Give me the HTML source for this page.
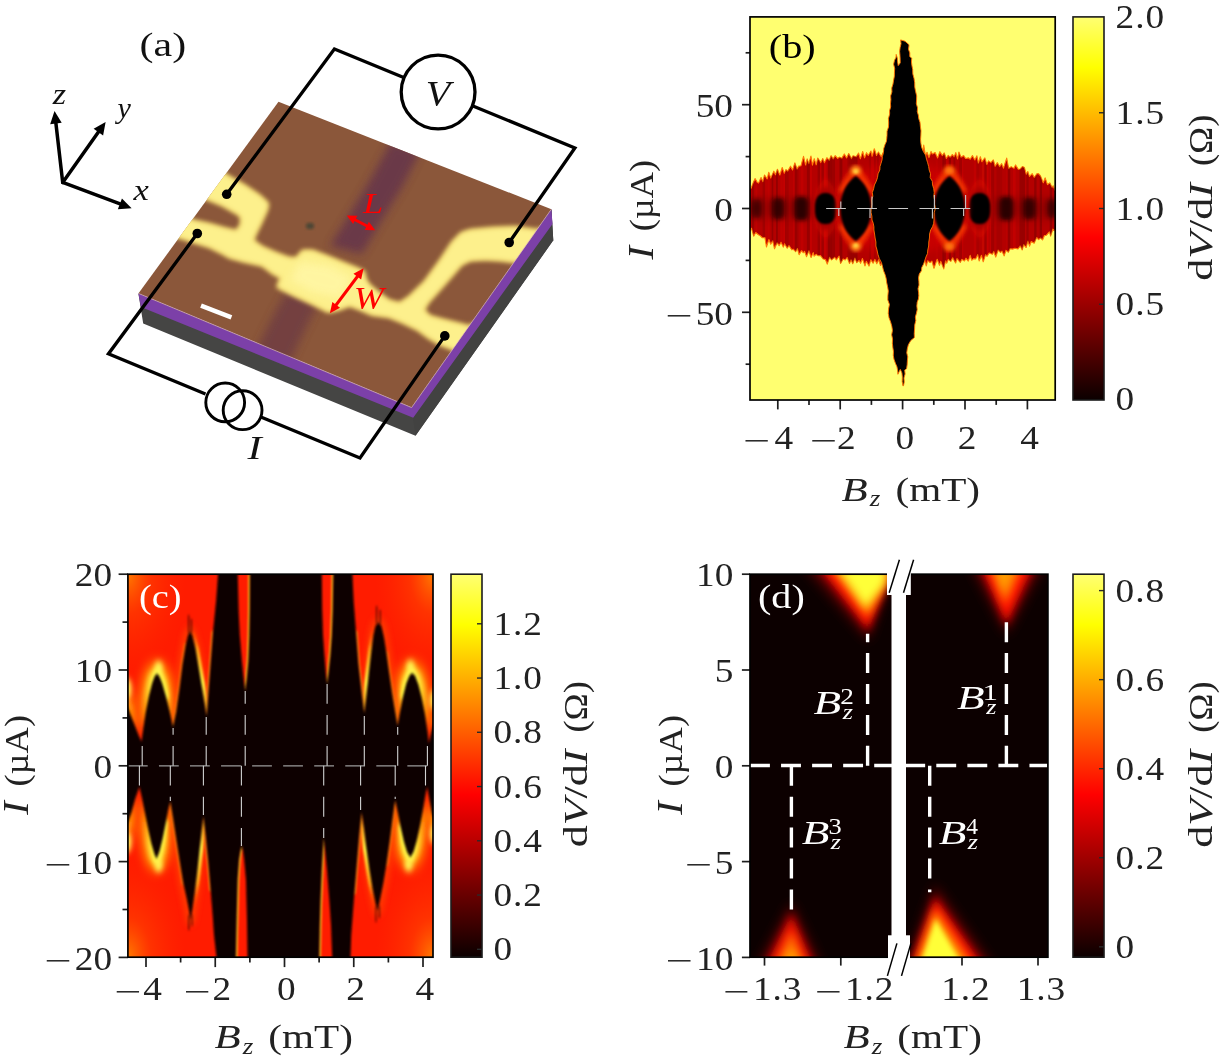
<!DOCTYPE html>
<html lang="en"><head><meta charset="utf-8"><title>Figure</title>
<style>
html,body{margin:0;padding:0;background:#fff;overflow:hidden}
svg{display:block;font-family:"Liberation Serif",serif}
</style></head><body>
<svg width="1220" height="1062" viewBox="0 0 1220 1062">
<defs>
<linearGradient id="hot" x1="0" y1="1" x2="0" y2="0">
<stop offset="0" stop-color="#0b0000"/><stop offset="0.4245" stop-color="#ff0000"/><stop offset="0.8675" stop-color="#ffff00"/><stop offset="1" stop-color="#ffff72"/>
</linearGradient>
<clipPath id="clipa"><polygon points="278.5,101.75 551.4,209.2 411.6,407.6 138.4,293.4"/></clipPath>
<filter id="ab3" x="-10%" y="-10%" width="120%" height="120%"><feGaussianBlur stdDeviation="2.6"/></filter>
<filter id="ab5" x="-20%" y="-20%" width="140%" height="140%"><feGaussianBlur stdDeviation="4.5"/></filter>
<filter id="ab1" x="-20%" y="-20%" width="140%" height="140%"><feGaussianBlur stdDeviation="1.5"/></filter>

<clipPath id="clipb"><rect x="750" y="16.9" width="305.2" height="383.1"/></clipPath>
<filter id="bl1" x="-20%" y="-20%" width="140%" height="140%"><feGaussianBlur stdDeviation="1"/></filter>
<filter id="bl2" x="-30%" y="-30%" width="160%" height="160%"><feGaussianBlur stdDeviation="2.2"/></filter>
<filter id="bl4" x="-40%" y="-40%" width="180%" height="180%"><feGaussianBlur stdDeviation="4"/></filter>
<filter id="bl05" x="-10%" y="-10%" width="120%" height="120%"><feGaussianBlur stdDeviation="0.55"/></filter>
<radialGradient id="blob"><stop offset="0" stop-color="#000" stop-opacity="1"/><stop offset="0.55" stop-color="#100000" stop-opacity="0.9"/><stop offset="1" stop-color="#300000" stop-opacity="0"/></radialGradient>

<clipPath id="clipc"><rect x="127.9" y="574.2" width="305.1" height="383"/></clipPath>
<radialGradient id="ccorner"><stop offset="0" stop-color="#ff7c00" stop-opacity="1"/><stop offset="0.4" stop-color="#ff5200" stop-opacity="0.42"/><stop offset="1" stop-color="#ff3000" stop-opacity="0"/></radialGradient>
<linearGradient id="gU1" gradientUnits="userSpaceOnUse" x1="0" x2="0" y1="668" y2="746"><stop offset="0" stop-color="#ffff58"/><stop offset="0.25" stop-color="#ffe030"/><stop offset="0.6" stop-color="#ff8a00" stop-opacity="0.8"/><stop offset="1" stop-color="#ff2000" stop-opacity="0"/></linearGradient>
<linearGradient id="gU1o" gradientUnits="userSpaceOnUse" x1="0" x2="0" y1="668" y2="746"><stop offset="0" stop-color="#ffa000"/><stop offset="0.5" stop-color="#ff5a00" stop-opacity="0.85"/><stop offset="1" stop-color="#ff1800" stop-opacity="0"/></linearGradient>
<linearGradient id="gL1" gradientUnits="userSpaceOnUse" x1="0" x2="0" y1="864" y2="786"><stop offset="0" stop-color="#ffff58"/><stop offset="0.25" stop-color="#ffe030"/><stop offset="0.6" stop-color="#ff8a00" stop-opacity="0.8"/><stop offset="1" stop-color="#ff2000" stop-opacity="0"/></linearGradient>
<linearGradient id="gL1o" gradientUnits="userSpaceOnUse" x1="0" x2="0" y1="864" y2="786"><stop offset="0" stop-color="#ffa000"/><stop offset="0.5" stop-color="#ff5a00" stop-opacity="0.85"/><stop offset="1" stop-color="#ff1800" stop-opacity="0"/></linearGradient>
<linearGradient id="gU2" gradientUnits="userSpaceOnUse" x1="0" x2="0" y1="625" y2="722"><stop offset="0" stop-color="#ff4000" stop-opacity="0"/><stop offset="0.25" stop-color="#ffa818" stop-opacity="0.9"/><stop offset="0.6" stop-color="#fff040" stop-opacity="1"/><stop offset="0.85" stop-color="#ffb020" stop-opacity="0.8"/><stop offset="1" stop-color="#ff5000" stop-opacity="0.2"/></linearGradient>
<linearGradient id="gL2" gradientUnits="userSpaceOnUse" x1="0" x2="0" y1="908" y2="810"><stop offset="0" stop-color="#ff4000" stop-opacity="0"/><stop offset="0.25" stop-color="#ffa818" stop-opacity="0.9"/><stop offset="0.6" stop-color="#fff040" stop-opacity="1"/><stop offset="0.85" stop-color="#ffb020" stop-opacity="0.8"/><stop offset="1" stop-color="#ff5000" stop-opacity="0.2"/></linearGradient>
<filter id="cb1" filterUnits="userSpaceOnUse" x="100" y="550" width="360" height="430"><feGaussianBlur stdDeviation="0.9 1.5"/></filter>
<filter id="cb2" filterUnits="userSpaceOnUse" x="100" y="550" width="360" height="430"><feGaussianBlur stdDeviation="1.5 2.2"/></filter>
<filter id="cb3" filterUnits="userSpaceOnUse" x="100" y="550" width="360" height="430"><feGaussianBlur stdDeviation="2.4 3.4"/></filter>
<filter id="cb6" filterUnits="userSpaceOnUse" x="100" y="550" width="360" height="430"><feGaussianBlur stdDeviation="4.5 6.5"/></filter>

<clipPath id="clipd"><rect x="750" y="574.2" width="297.9" height="383"/></clipPath>
<filter id="db4" x="-30%" y="-30%" width="160%" height="160%"><feGaussianBlur stdDeviation="4"/></filter>
<filter id="db25" x="-30%" y="-30%" width="160%" height="160%"><feGaussianBlur stdDeviation="2.5"/></filter>
<filter id="db6" x="-40%" y="-40%" width="180%" height="180%"><feGaussianBlur stdDeviation="6"/></filter>

</defs>
<rect width="1220" height="1062" fill="#fff"/>
<g id="panel_a">
<polygon points="138.4,293.4 411.6,407.6 551.4,209.2 553.3,240.3 415.5,435.8 143.2,323.6" fill="#454544"/>
<polygon points="411.6,407.6 551.4,209.2 553.3,240.3 415.5,435.8" fill="#424241"/>
<polygon points="138.4,293.4 411.6,407.6 551.4,209.2 552.5,223.9 413.2,417.8 140.9,307" fill="#7c40a8"/>
<polygon points="278.5,101.75 551.4,209.2 411.6,407.6 138.4,293.4" fill="#8b573a"/>
<g clip-path="url(#clipa)">
<polygon points="392,140 420,152 403,185.4 382,220 362,254 330,246 346,220 367,185.4" fill="#69394a" filter="url(#ab5)" opacity="0.95"/>
<polygon points="287,290 318,303 304,332 289,364 256,351 271,320" fill="#703c42" filter="url(#ab5)" opacity="0.85"/>
<ellipse cx="310" cy="226" rx="4.2" ry="3.3" fill="#4e4636" filter="url(#ab1)"/>
<polygon points="225.4,174.5 243.8,185 259.6,195.6 268.2,203.5 266.9,210.1 260.9,223.3 255.7,233.8 253,240.4 262.3,247 275.4,252.8 288.6,257.8 296.5,258.2 302.5,250.7 312.7,250.7 328.5,256.7 344.3,263.3 357.5,268.5 364.1,271.8 365.4,279.1 369.4,285 378.6,292.8 389,300.5 399.6,303.2 409,297 424.5,282 440.3,260.3 452.3,242.2 461.3,233.1 470.4,230.1 493,227.9 515.6,227.1 536.7,230.1 545,228 520,262 512.6,261.8 500.5,260.3 485.4,259.5 470.4,260.3 461.3,264.8 452.3,275.3 440.3,288.9 428.2,302.4 423.7,310 429.7,316 440.3,319 452.3,322 464.4,325 468.9,326.5 478,322 458,352 452.3,349.1 440.3,344.6 429.7,338.6 417.7,329.8 402.6,322.5 389,317 372,314.7 360.2,309.4 349.6,305.4 339.1,309.4 328.5,312 312.7,304.1 292.9,294.9 277.1,287 281.1,277.8 273.2,273.8 262.3,265.4 243.8,261.5 229.3,257.5 222.7,253.6 209.5,247 196.4,243 180.5,237.8 172,236 186,216 191,220 209.5,224 225.4,228.5 236.5,231 241,224.5 241,217 238.5,214.5 222.7,205.5 208.2,199.5 200,197 218,170" fill="#e9c458" stroke="#e9c458" stroke-width="1.2" stroke-linejoin="round" filter="url(#ab3)"/>
<polygon points="225.4,174.5 243.8,185 259.6,195.6 268.2,203.5 266.9,210.1 260.9,223.3 255.7,233.8 253,240.4 262.3,247 275.4,252.8 288.6,257.8 296.5,258.2 302.5,250.7 312.7,250.7 328.5,256.7 344.3,263.3 357.5,268.5 364.1,271.8 365.4,279.1 369.4,285 378.6,292.8 389,300.5 399.6,303.2 409,297 424.5,282 440.3,260.3 452.3,242.2 461.3,233.1 470.4,230.1 493,227.9 515.6,227.1 536.7,230.1 545,228 520,262 512.6,261.8 500.5,260.3 485.4,259.5 470.4,260.3 461.3,264.8 452.3,275.3 440.3,288.9 428.2,302.4 423.7,310 429.7,316 440.3,319 452.3,322 464.4,325 468.9,326.5 478,322 458,352 452.3,349.1 440.3,344.6 429.7,338.6 417.7,329.8 402.6,322.5 389,317 372,314.7 360.2,309.4 349.6,305.4 339.1,309.4 328.5,312 312.7,304.1 292.9,294.9 277.1,287 281.1,277.8 273.2,273.8 262.3,265.4 243.8,261.5 229.3,257.5 222.7,253.6 209.5,247 196.4,243 180.5,237.8 172,236 186,216 191,220 209.5,224 225.4,228.5 236.5,231 241,224.5 241,217 238.5,214.5 222.7,205.5 208.2,199.5 200,197 218,170" fill="#fdf08c" filter="url(#ab3)"/>
<polygon points="300,262 330,266 352,278 340,298 312,292 290,280" fill="#fff6a4" filter="url(#ab5)" opacity="0.9"/>
</g>
<polyline points="138.4,293.4 411.6,407.6 551.4,209.2" fill="none" stroke="#d9b0c8" stroke-width="0.7"/>
<line x1="201" y1="305.7" x2="231.4" y2="317.3" stroke="#fff" stroke-width="4.6" />
<line x1="353.54" y1="219.01" x2="368.46" y2="226.79" stroke="#ff0000" stroke-width="3" />
<polygon points="346.8,215.5 353.1,223.97 357.35,215.81" fill="#ff0000"/>
<polygon points="375.2,230.3 364.65,229.99 368.9,221.83" fill="#ff0000"/>
<line x1="358.56" y1="275.02" x2="334.94" y2="306.48" stroke="#ff0000" stroke-width="3" />
<polygon points="363.6,268.3 353.46,273.82 361.14,279.58" fill="#ff0000"/>
<polygon points="329.9,313.2 332.36,301.92 340.04,307.68" fill="#ff0000"/>
<text transform="translate(363.05 212.5) scale(1.1956 1)" font-size="30.4" fill="#ff0000"><tspan font-style="italic">L</tspan></text>
<text transform="translate(353.77 308.7) scale(1.1636 1)" font-size="31" fill="#ff0000"><tspan font-style="italic">W</tspan></text>
<polyline points="226.7,194.3 334.4,49 574.9,147.9 509.2,242.5" fill="none" stroke="#000" stroke-width="3.3" stroke-linejoin="miter"/>
<circle cx="438.1" cy="92.0" r="36.9" fill="#fff" stroke="#000" stroke-width="3.3"/>
<polyline points="197.3,233.5 108.4,353.9 205.5,394" fill="none" stroke="#000" stroke-width="3.3" stroke-linejoin="miter"/>
<polyline points="261.5,417.2 360,457.9 444.8,335.9" fill="none" stroke="#000" stroke-width="3.3" stroke-linejoin="miter"/>
<circle cx="225.2" cy="402.4" r="19.4" fill="none" stroke="#000" stroke-width="2.9"/>
<circle cx="242.6" cy="410.2" r="19.4" fill="none" stroke="#000" stroke-width="2.9"/>
<circle cx="226.7" cy="194.3" r="4.8" fill="#000"/>
<circle cx="197.3" cy="233.5" r="4.8" fill="#000"/>
<circle cx="509.2" cy="242.5" r="4.8" fill="#000"/>
<circle cx="444.8" cy="335.9" r="4.8" fill="#000"/>
<text transform="translate(425.79 106.1) scale(1.1311 1)" font-size="35.5" fill="#111"><tspan font-style="italic">V</tspan></text>
<text transform="translate(247.51 459.1) scale(1.2661 1)" font-size="33.7" fill="#111"><tspan font-style="italic">I</tspan></text>
<line x1="62.7" y1="182.4" x2="55.5" y2="119.79" stroke="#000" stroke-width="3.5" stroke-linecap="round"/>
<polygon points="54.5,111.1 61.69,122.86 50.17,124.18" fill="#000"/>
<line x1="62.7" y1="182.4" x2="100.54" y2="129.04" stroke="#000" stroke-width="3.5" stroke-linecap="round"/>
<polygon points="105.6,121.9 103.1,135.45 93.64,128.74" fill="#000"/>
<line x1="62.7" y1="182.4" x2="123.41" y2="205.22" stroke="#000" stroke-width="3.5" stroke-linecap="round"/>
<polygon points="131.6,208.3 117.86,209.33 121.94,198.47" fill="#000"/>
<text transform="translate(52.74 104) scale(1.1622 1)" font-size="29.5" fill="#111"><tspan font-style="italic">z</tspan></text>
<text transform="translate(117.49 118.2) scale(1.0218 1)" font-size="29.5" fill="#111"><tspan font-style="italic">y</tspan></text>
<text transform="translate(133.43 199.6) scale(1.1676 1)" font-size="29.5" fill="#111"><tspan font-style="italic">x</tspan></text>
<text transform="translate(139.61 56) scale(1.2347 1)" font-size="34" fill="#111">(a)</text>
</g>
<g id="panel_b">
<g clip-path="url(#clipb)">
<rect x="750" y="16.9" width="305.2" height="383.1" fill="#ffff70"/>
<polygon points="746.15,189.75 747.21,191.07 749.33,187.73 751.05,188.34 753.32,182.49 755.02,178.61 757.27,182.35 758.59,183.08 761.05,177.49 762.85,181.57 764.53,174.97 767.19,178.91 768.76,172.2 770.75,178.1 773.86,171.15 775.47,174.73 777.42,169.23 779.87,174.98 782.22,167.52 784.28,173.36 785.94,169.6 787.73,171.1 790.51,166.16 792.53,170.05 794.85,162.85 797.09,168.95 798.72,166.13 801.03,165.72 803.52,156.37 805.63,165.01 807.13,158.88 808.81,163.58 810.96,156.09 812.44,165.09 814.25,158.67 816.21,164.8 817.74,157.96 820.83,162.61 822.76,158.51 824.37,162.69 826.91,157.66 829.25,160.32 831.04,155.68 833.21,158.86 835.23,155.64 837.7,158.42 839.35,157.11 841.86,158.14 844.3,153.95 846.64,157.89 848.73,153.48 851.47,158.55 853.01,155.73 856.21,156.82 858.54,153.03 860.35,158.79 862.7,151.45 864.57,157.82 866.52,152.68 868.27,155.46 870.92,150.98 872.12,156.32 874.31,148.77 876.54,155.5 878.44,152.07 881.27,156.73 883.51,151.86 885.15,155.47 887.42,152.2 890.45,155.06 892.2,151.6 893.15,156.72 895.69,153.72 898.08,156.56 899.36,150.04 902.71,155.81 904.68,153.28 906.82,156.43 907.71,151.54 909.68,155.19 912.33,150.56 914.35,157.03 916.61,152.29 918.21,156.79 920.38,149.17 922.4,154.57 923.72,145.15 925.46,155.88 927.01,152.25 928.96,157.56 931.05,151.4 932.32,153.88 935.13,152.59 937.64,157.93 939.81,151.65 942.43,155.64 944.26,152.92 946.29,158.54 948.23,155.37 950.12,157.33 952.21,154.47 954.16,156.85 955.8,152.59 957.53,158.97 958.9,152 961.04,157.23 963.65,155.48 965.65,158.53 968.57,157.87 970.18,159.27 972.42,155.48 974.83,159.96 976.88,155.8 978.37,163.03 980.32,156.66 981.93,161.78 984.87,157.9 986.86,164.51 988.46,160.85 990.99,162.6 993.3,159.89 995.19,166.24 997.3,162.64 999.62,166.59 1001.68,163.64 1003.48,168.12 1006.7,158.11 1008.68,168.52 1011.18,166.65 1013.99,168.37 1015.51,164.88 1018.28,169.2 1020.18,168.99 1022.59,166.48 1024.35,167.43 1026.33,174.17 1027.8,171.49 1029.43,176.45 1032.22,173.67 1034.36,177.43 1036.85,173.79 1038.51,173.55 1040.47,175.9 1043.32,182.75 1045.12,177.85 1047.52,184.6 1049.78,182.86 1051.97,187.31 1053.11,185.8 1055.21,190.64 1057.54,185.75 1058.36,229.55 1056.57,227.2 1055.76,231.55 1052.93,229.2 1050.61,236.13 1049.44,231.77 1046.43,235.18 1044.45,235.51 1042.55,239.99 1040.64,237.95 1038.51,239.68 1036.74,237.6 1034.14,243.15 1031.19,241.54 1029.58,246.16 1027.88,241.19 1026.13,247.56 1023.73,244.58 1022.25,249.9 1020.3,245.9 1017.99,249.04 1014.91,248.18 1012.46,249.12 1009.95,248.71 1008.4,252.26 1005.98,250.42 1004.16,255.88 1001.95,251.14 1000.41,252.46 998.12,250.13 995.76,257.08 993.71,251.52 992.42,254.35 989.14,253.01 986.99,256.34 985.54,254.62 983.22,261.81 981.45,255.32 979.14,260.92 977.75,254.61 975.66,258.97 973.75,258.61 971.71,260.23 970.17,255.33 968.29,261.09 966,258.28 964.48,261.03 961.72,259.32 960.31,262.42 956.99,258.64 955.61,263.01 952.71,257.88 950.76,261.36 948.36,259.33 946.68,263.25 945.56,260.83 943.76,268.89 940.76,261.36 939.49,265.32 937.16,259.23 933.97,268.31 931.93,261.05 930.09,262.65 927.68,260.77 926.25,265.87 924.46,259.59 922.38,264.52 920.16,261.57 918.19,266.53 916.73,259.93 914.18,263.42 912,260.57 910.54,264.76 908.69,262.44 906.58,267.15 904.53,262.83 902.54,266.62 900.36,261.56 898.52,264.65 896.24,261.89 894.01,265.01 891.9,261.16 888.98,266.1 887.55,262.37 885.54,264.12 882.91,260.85 880.46,265.4 878.54,259.61 876.79,263.72 874.9,259.25 873.09,263.26 870.79,259.65 869.02,266.1 866.29,261.28 864.99,265.91 862.41,258.51 860.6,263.31 859.06,260.44 856.76,262.63 854.91,258.12 852.75,263.79 851.1,259.79 849.5,263.44 847.17,257.51 845.22,260 843.11,259 840.57,263.52 839.16,256 836.37,259.9 834.57,257.31 831.56,259.95 829.6,257.26 827.25,264.15 825.45,259.43 823.34,259.02 820.32,255.46 817.94,255.59 816.11,254.42 814.1,256.21 813.21,252.62 811.09,257.54 808.92,250.78 806.49,256.69 804.59,251.34 803.35,252.79 801.61,250.66 799.08,254.61 797.43,248.52 795.68,251.73 793.1,249.19 791.79,249.81 788.91,245.64 787.23,248.25 784.62,243.7 783.31,247.13 781.05,242.33 779.18,245.68 777.13,242.81 774.53,248.76 772.65,240.68 770.72,244.26 768.9,239.52 766.46,247.01 764.94,237.56 762.29,237.77 760.17,235.72 758.41,234.74 755.76,232.52 753.7,236.15 751.55,228.26 749.46,231.92 747.27,225.15 745.84,228.15" fill="#b40000" stroke="#ff7a08" stroke-width="1.1" stroke-linejoin="round" filter="url(#bl05)"/>
<clipPath id="clipell"><polygon points="746.15,189.75 747.21,191.07 749.33,187.73 751.05,188.34 753.32,182.49 755.02,178.61 757.27,182.35 758.59,183.08 761.05,177.49 762.85,181.57 764.53,174.97 767.19,178.91 768.76,172.2 770.75,178.1 773.86,171.15 775.47,174.73 777.42,169.23 779.87,174.98 782.22,167.52 784.28,173.36 785.94,169.6 787.73,171.1 790.51,166.16 792.53,170.05 794.85,162.85 797.09,168.95 798.72,166.13 801.03,165.72 803.52,156.37 805.63,165.01 807.13,158.88 808.81,163.58 810.96,156.09 812.44,165.09 814.25,158.67 816.21,164.8 817.74,157.96 820.83,162.61 822.76,158.51 824.37,162.69 826.91,157.66 829.25,160.32 831.04,155.68 833.21,158.86 835.23,155.64 837.7,158.42 839.35,157.11 841.86,158.14 844.3,153.95 846.64,157.89 848.73,153.48 851.47,158.55 853.01,155.73 856.21,156.82 858.54,153.03 860.35,158.79 862.7,151.45 864.57,157.82 866.52,152.68 868.27,155.46 870.92,150.98 872.12,156.32 874.31,148.77 876.54,155.5 878.44,152.07 881.27,156.73 883.51,151.86 885.15,155.47 887.42,152.2 890.45,155.06 892.2,151.6 893.15,156.72 895.69,153.72 898.08,156.56 899.36,150.04 902.71,155.81 904.68,153.28 906.82,156.43 907.71,151.54 909.68,155.19 912.33,150.56 914.35,157.03 916.61,152.29 918.21,156.79 920.38,149.17 922.4,154.57 923.72,145.15 925.46,155.88 927.01,152.25 928.96,157.56 931.05,151.4 932.32,153.88 935.13,152.59 937.64,157.93 939.81,151.65 942.43,155.64 944.26,152.92 946.29,158.54 948.23,155.37 950.12,157.33 952.21,154.47 954.16,156.85 955.8,152.59 957.53,158.97 958.9,152 961.04,157.23 963.65,155.48 965.65,158.53 968.57,157.87 970.18,159.27 972.42,155.48 974.83,159.96 976.88,155.8 978.37,163.03 980.32,156.66 981.93,161.78 984.87,157.9 986.86,164.51 988.46,160.85 990.99,162.6 993.3,159.89 995.19,166.24 997.3,162.64 999.62,166.59 1001.68,163.64 1003.48,168.12 1006.7,158.11 1008.68,168.52 1011.18,166.65 1013.99,168.37 1015.51,164.88 1018.28,169.2 1020.18,168.99 1022.59,166.48 1024.35,167.43 1026.33,174.17 1027.8,171.49 1029.43,176.45 1032.22,173.67 1034.36,177.43 1036.85,173.79 1038.51,173.55 1040.47,175.9 1043.32,182.75 1045.12,177.85 1047.52,184.6 1049.78,182.86 1051.97,187.31 1053.11,185.8 1055.21,190.64 1057.54,185.75 1058.36,229.55 1056.57,227.2 1055.76,231.55 1052.93,229.2 1050.61,236.13 1049.44,231.77 1046.43,235.18 1044.45,235.51 1042.55,239.99 1040.64,237.95 1038.51,239.68 1036.74,237.6 1034.14,243.15 1031.19,241.54 1029.58,246.16 1027.88,241.19 1026.13,247.56 1023.73,244.58 1022.25,249.9 1020.3,245.9 1017.99,249.04 1014.91,248.18 1012.46,249.12 1009.95,248.71 1008.4,252.26 1005.98,250.42 1004.16,255.88 1001.95,251.14 1000.41,252.46 998.12,250.13 995.76,257.08 993.71,251.52 992.42,254.35 989.14,253.01 986.99,256.34 985.54,254.62 983.22,261.81 981.45,255.32 979.14,260.92 977.75,254.61 975.66,258.97 973.75,258.61 971.71,260.23 970.17,255.33 968.29,261.09 966,258.28 964.48,261.03 961.72,259.32 960.31,262.42 956.99,258.64 955.61,263.01 952.71,257.88 950.76,261.36 948.36,259.33 946.68,263.25 945.56,260.83 943.76,268.89 940.76,261.36 939.49,265.32 937.16,259.23 933.97,268.31 931.93,261.05 930.09,262.65 927.68,260.77 926.25,265.87 924.46,259.59 922.38,264.52 920.16,261.57 918.19,266.53 916.73,259.93 914.18,263.42 912,260.57 910.54,264.76 908.69,262.44 906.58,267.15 904.53,262.83 902.54,266.62 900.36,261.56 898.52,264.65 896.24,261.89 894.01,265.01 891.9,261.16 888.98,266.1 887.55,262.37 885.54,264.12 882.91,260.85 880.46,265.4 878.54,259.61 876.79,263.72 874.9,259.25 873.09,263.26 870.79,259.65 869.02,266.1 866.29,261.28 864.99,265.91 862.41,258.51 860.6,263.31 859.06,260.44 856.76,262.63 854.91,258.12 852.75,263.79 851.1,259.79 849.5,263.44 847.17,257.51 845.22,260 843.11,259 840.57,263.52 839.16,256 836.37,259.9 834.57,257.31 831.56,259.95 829.6,257.26 827.25,264.15 825.45,259.43 823.34,259.02 820.32,255.46 817.94,255.59 816.11,254.42 814.1,256.21 813.21,252.62 811.09,257.54 808.92,250.78 806.49,256.69 804.59,251.34 803.35,252.79 801.61,250.66 799.08,254.61 797.43,248.52 795.68,251.73 793.1,249.19 791.79,249.81 788.91,245.64 787.23,248.25 784.62,243.7 783.31,247.13 781.05,242.33 779.18,245.68 777.13,242.81 774.53,248.76 772.65,240.68 770.72,244.26 768.9,239.52 766.46,247.01 764.94,237.56 762.29,237.77 760.17,235.72 758.41,234.74 755.76,232.52 753.7,236.15 751.55,228.26 749.46,231.92 747.27,225.15 745.84,228.15"/></clipPath>
<g clip-path="url(#clipell)" filter="url(#bl05)">
<rect x="752.18" y="150" width="1.57" height="118" fill="#5a0000" opacity="0.34"/>
<rect x="755.47" y="150" width="1.77" height="118" fill="#ff1800" opacity="0.15"/>
<rect x="762.62" y="150" width="2.46" height="118" fill="#5a0000" opacity="0.22"/>
<rect x="765.07" y="150" width="2.98" height="118" fill="#ff1800" opacity="0.08"/>
<rect x="768.05" y="150" width="1.61" height="118" fill="#ff1800" opacity="0.15"/>
<rect x="771.62" y="150" width="1.67" height="118" fill="#5a0000" opacity="0.32"/>
<rect x="776" y="150" width="1.9" height="118" fill="#5a0000" opacity="0.34"/>
<rect x="780.42" y="150" width="1.54" height="118" fill="#ff1800" opacity="0.16"/>
<rect x="781.96" y="150" width="1.45" height="118" fill="#ff1800" opacity="0.11"/>
<rect x="783.41" y="150" width="1.58" height="118" fill="#ff1800" opacity="0.2"/>
<rect x="784.99" y="150" width="1.51" height="118" fill="#5a0000" opacity="0.2"/>
<rect x="786.5" y="150" width="2.24" height="118" fill="#5a0000" opacity="0.17"/>
<rect x="793.3" y="150" width="1.4" height="118" fill="#ff1800" opacity="0.19"/>
<rect x="794.7" y="150" width="2.67" height="118" fill="#5a0000" opacity="0.29"/>
<rect x="797.37" y="150" width="1.41" height="118" fill="#5a0000" opacity="0.13"/>
<rect x="800.78" y="150" width="2.59" height="118" fill="#ff1800" opacity="0.14"/>
<rect x="806.86" y="150" width="3.02" height="118" fill="#5a0000" opacity="0.31"/>
<rect x="809.88" y="150" width="2.04" height="118" fill="#ff1800" opacity="0.2"/>
<rect x="817.57" y="150" width="2.48" height="118" fill="#5a0000" opacity="0.28"/>
<rect x="820.06" y="150" width="1.4" height="118" fill="#ff1800" opacity="0.18"/>
<rect x="821.45" y="150" width="2.46" height="118" fill="#5a0000" opacity="0.24"/>
<rect x="823.91" y="150" width="2.44" height="118" fill="#ff1800" opacity="0.21"/>
<rect x="827.92" y="150" width="2.76" height="118" fill="#5a0000" opacity="0.37"/>
<rect x="830.68" y="150" width="1.28" height="118" fill="#5a0000" opacity="0.32"/>
<rect x="831.95" y="150" width="3.08" height="118" fill="#5a0000" opacity="0.27"/>
<rect x="839.54" y="150" width="2.86" height="118" fill="#5a0000" opacity="0.37"/>
<rect x="847.45" y="150" width="1.91" height="118" fill="#5a0000" opacity="0.22"/>
<rect x="849.36" y="150" width="1.23" height="118" fill="#5a0000" opacity="0.3"/>
<rect x="850.59" y="150" width="1.9" height="118" fill="#5a0000" opacity="0.31"/>
<rect x="852.49" y="150" width="3.08" height="118" fill="#5a0000" opacity="0.33"/>
<rect x="855.57" y="150" width="1.98" height="118" fill="#5a0000" opacity="0.32"/>
<rect x="868.91" y="150" width="2.14" height="118" fill="#5a0000" opacity="0.15"/>
<rect x="871.04" y="150" width="2.87" height="118" fill="#ff1800" opacity="0.12"/>
<rect x="873.91" y="150" width="1.95" height="118" fill="#5a0000" opacity="0.17"/>
<rect x="877.07" y="150" width="1.76" height="118" fill="#5a0000" opacity="0.24"/>
<rect x="880.89" y="150" width="2.52" height="118" fill="#ff1800" opacity="0.2"/>
<rect x="889.21" y="150" width="2.47" height="118" fill="#5a0000" opacity="0.37"/>
<rect x="891.68" y="150" width="2.51" height="118" fill="#5a0000" opacity="0.16"/>
<rect x="895.86" y="150" width="1.89" height="118" fill="#ff1800" opacity="0.19"/>
<rect x="912.95" y="150" width="2.31" height="118" fill="#5a0000" opacity="0.16"/>
<rect x="915.26" y="150" width="2.19" height="118" fill="#5a0000" opacity="0.16"/>
<rect x="917.45" y="150" width="2.18" height="118" fill="#5a0000" opacity="0.34"/>
<rect x="925.51" y="150" width="1.95" height="118" fill="#ff1800" opacity="0.09"/>
<rect x="935.62" y="150" width="2.22" height="118" fill="#ff1800" opacity="0.08"/>
<rect x="942.35" y="150" width="1.93" height="118" fill="#5a0000" opacity="0.32"/>
<rect x="944.28" y="150" width="1.62" height="118" fill="#5a0000" opacity="0.26"/>
<rect x="945.91" y="150" width="2.85" height="118" fill="#ff1800" opacity="0.14"/>
<rect x="948.76" y="150" width="2.21" height="118" fill="#5a0000" opacity="0.37"/>
<rect x="953.48" y="150" width="1.86" height="118" fill="#5a0000" opacity="0.27"/>
<rect x="959.09" y="150" width="2.97" height="118" fill="#5a0000" opacity="0.2"/>
<rect x="962.06" y="150" width="1.21" height="118" fill="#ff1800" opacity="0.17"/>
<rect x="973.83" y="150" width="2.56" height="118" fill="#ff1800" opacity="0.14"/>
<rect x="976.39" y="150" width="2.73" height="118" fill="#5a0000" opacity="0.13"/>
<rect x="981.87" y="150" width="2.51" height="118" fill="#ff1800" opacity="0.19"/>
<rect x="984.38" y="150" width="2.32" height="118" fill="#5a0000" opacity="0.23"/>
<rect x="986.7" y="150" width="1.84" height="118" fill="#ff1800" opacity="0.21"/>
<rect x="989.85" y="150" width="1.28" height="118" fill="#ff1800" opacity="0.16"/>
<rect x="991.13" y="150" width="3.04" height="118" fill="#5a0000" opacity="0.22"/>
<rect x="996.55" y="150" width="3.16" height="118" fill="#5a0000" opacity="0.15"/>
<rect x="999.71" y="150" width="2.49" height="118" fill="#5a0000" opacity="0.12"/>
<rect x="1006.23" y="150" width="1.46" height="118" fill="#ff1800" opacity="0.11"/>
<rect x="1007.69" y="150" width="2.67" height="118" fill="#5a0000" opacity="0.32"/>
<rect x="1012.98" y="150" width="2.66" height="118" fill="#ff1800" opacity="0.18"/>
<rect x="1019.47" y="150" width="2.63" height="118" fill="#5a0000" opacity="0.29"/>
<rect x="1022.11" y="150" width="2.83" height="118" fill="#5a0000" opacity="0.31"/>
<rect x="1026.47" y="150" width="2.17" height="118" fill="#5a0000" opacity="0.27"/>
<rect x="1034.14" y="150" width="2.46" height="118" fill="#5a0000" opacity="0.32"/>
<rect x="1039.69" y="150" width="2.33" height="118" fill="#5a0000" opacity="0.37"/>
<rect x="1049.65" y="150" width="2.4" height="118" fill="#5a0000" opacity="0.35"/>
</g>
<ellipse cx="902.6" cy="208.5" rx="62" ry="48" fill="#d80000" opacity="0.55" filter="url(#bl4)"/>
<rect x="751.08" y="199" width="11" height="19" rx="3.3" ry="5.23" fill="#140000" opacity="0.6" filter="url(#bl2)"/>
<ellipse cx="756.58" cy="208.5" rx="3.03" ry="5.7" fill="#000" opacity="0.36" filter="url(#bl2)"/>
<rect x="771.61" y="198" width="13" height="21" rx="3.9" ry="5.78" fill="#140000" opacity="0.8" filter="url(#bl2)"/>
<ellipse cx="778.11" cy="208.5" rx="3.58" ry="6.3" fill="#000" opacity="0.48" filter="url(#bl2)"/>
<rect x="794.2" y="197" width="14" height="23" rx="4.2" ry="6.33" fill="#140000" opacity="0.95" filter="url(#bl2)"/>
<ellipse cx="801.2" cy="208.5" rx="3.85" ry="6.9" fill="#000" opacity="0.57" filter="url(#bl2)"/>
<rect x="999.18" y="197" width="14" height="23" rx="4.2" ry="6.33" fill="#140000" opacity="0.95" filter="url(#bl2)"/>
<ellipse cx="1006.18" cy="208.5" rx="3.85" ry="6.9" fill="#000" opacity="0.57" filter="url(#bl2)"/>
<rect x="1022.77" y="198" width="13" height="21" rx="3.9" ry="5.78" fill="#140000" opacity="0.8" filter="url(#bl2)"/>
<ellipse cx="1029.27" cy="208.5" rx="3.58" ry="6.3" fill="#000" opacity="0.48" filter="url(#bl2)"/>
<rect x="1046.86" y="199" width="11" height="19" rx="3.3" ry="5.23" fill="#140000" opacity="0.6" filter="url(#bl2)"/>
<ellipse cx="1052.36" cy="208.5" rx="3.03" ry="5.7" fill="#000" opacity="0.36" filter="url(#bl2)"/>
<rect x="750" y="198.5" width="305.2" height="20" fill="#600000" opacity="0.35" filter="url(#bl4)"/>
<path d="M825.54 177.5 C833.6 183.7 838.54 195.48 838.54 208.5 C838.54 221.52 833.6 233.3 825.54 239.5 C817.48 233.3 812.54 221.52 812.54 208.5 C812.54 195.48 817.48 183.7 825.54 177.5 Z" fill="#e00800" opacity="0.45" filter="url(#bl2)"/>
<path d="M825.54 186.5 C832.98 190.9 837.54 199.26 837.54 208.5 C837.54 217.74 832.98 226.1 825.54 230.5 C818.1 226.1 813.54 217.74 813.54 208.5 C813.54 199.26 818.1 190.9 825.54 186.5 Z" fill="#a80000" filter="url(#bl2)"/>
<rect x="815.04" y="193" width="21" height="31" rx="9.5" ry="12" fill="#040000" filter="url(#bl1)"/>
<path d="M979.66 177.5 C987.72 183.7 992.66 195.48 992.66 208.5 C992.66 221.52 987.72 233.3 979.66 239.5 C971.6 233.3 966.66 221.52 966.66 208.5 C966.66 195.48 971.6 183.7 979.66 177.5 Z" fill="#e00800" opacity="0.45" filter="url(#bl2)"/>
<path d="M979.66 186.5 C987.1 190.9 991.66 199.26 991.66 208.5 C991.66 217.74 987.1 226.1 979.66 230.5 C972.22 226.1 967.66 217.74 967.66 208.5 C967.66 199.26 972.22 190.9 979.66 186.5 Z" fill="#a80000" filter="url(#bl2)"/>
<rect x="969.16" y="193" width="21" height="31" rx="9.5" ry="12" fill="#040000" filter="url(#bl1)"/>
<path d="M855.8 164 C868.51 172.9 876.3 189.81 876.3 208.5 C876.3 227.19 868.51 244.1 855.8 253 C843.09 244.1 835.3 227.19 835.3 208.5 C835.3 189.81 843.09 172.9 855.8 164 Z" fill="#e01000" opacity="0.55" filter="url(#bl2)"/>
<path d="M841.3 190 Q850.8 175 855.8 169 Q860.8 175 870.3 190" fill="none" stroke="#ff4400" stroke-width="5" stroke-linecap="round" filter="url(#bl2)" opacity="0.85"/>
<ellipse cx="855.8" cy="170.5" rx="5" ry="4" fill="#ffa020" filter="url(#bl2)"/>
<ellipse cx="855.8" cy="171.5" rx="2.4" ry="2" fill="#ffd040" filter="url(#bl1)"/>
<path d="M841.3 227 Q850.8 242 855.8 248 Q860.8 242 870.3 227" fill="none" stroke="#ff4400" stroke-width="5" stroke-linecap="round" filter="url(#bl2)" opacity="0.85"/>
<ellipse cx="855.8" cy="246.5" rx="5" ry="4" fill="#ffa020" filter="url(#bl2)"/>
<ellipse cx="855.8" cy="245.5" rx="2.4" ry="2" fill="#ffd040" filter="url(#bl1)"/>
<path d="M855.8 176 C865.41 182.5 871.3 194.85 871.3 208.5 C871.3 222.15 865.41 234.5 855.8 241 C846.19 234.5 840.3 222.15 840.3 208.5 C840.3 194.85 846.19 182.5 855.8 176 Z" fill="#020000" filter="url(#bl1)"/>
<path d="M949.4 164 C962.11 172.9 969.9 189.81 969.9 208.5 C969.9 227.19 962.11 244.1 949.4 253 C936.69 244.1 928.9 227.19 928.9 208.5 C928.9 189.81 936.69 172.9 949.4 164 Z" fill="#e01000" opacity="0.55" filter="url(#bl2)"/>
<path d="M934.9 190 Q944.4 175 949.4 169 Q954.4 175 963.9 190" fill="none" stroke="#ff4400" stroke-width="5" stroke-linecap="round" filter="url(#bl2)" opacity="0.85"/>
<ellipse cx="949.4" cy="170.5" rx="5" ry="4" fill="#ff7a10" filter="url(#bl2)"/>
<path d="M934.9 227 Q944.4 242 949.4 248 Q954.4 242 963.9 227" fill="none" stroke="#ff4400" stroke-width="5" stroke-linecap="round" filter="url(#bl2)" opacity="0.85"/>
<ellipse cx="949.4" cy="246.5" rx="5" ry="4" fill="#ff7a10" filter="url(#bl2)"/>
<path d="M949.4 176 C959.01 182.5 964.9 194.85 964.9 208.5 C964.9 222.15 959.01 234.5 949.4 241 C939.79 234.5 933.9 222.15 933.9 208.5 C933.9 194.85 939.79 182.5 949.4 176 Z" fill="#020000" filter="url(#bl1)"/>
<polygon points="900.6,39.9 901.03,43.73 900.12,47.57 899.6,51.4 899.95,55.23 900.14,59.07 900.2,62.9 898.2,65.6 897.67,61.87 897.37,58.13 896.2,54.4 895.97,57.35 894.5,60.3 893.59,64.26 894.67,68.22 894.46,72.18 894.37,76.14 893.6,80.1 892.97,84.05 891.74,88 891.91,91.95 890.6,95.9 890.89,99.58 890.5,103.26 890.66,106.94 889.55,110.62 889.6,114.3 888.42,118.52 888.65,122.74 888.52,126.96 887.04,131.18 887,135.4 886.73,138.47 886.36,141.53 885,144.6 883.71,148.57 883.44,152.53 882.4,156.5 882.03,159.88 881.04,163.25 879.98,166.62 879.8,170 878.06,173.75 877.5,177.5 876.22,181.25 874.4,185 873.64,188.75 872.34,192.5 872.79,196.25 871.6,200 871.84,204.25 871.2,208.5 871.04,212.33 871.86,216.17 872,220 873.27,223.33 873.88,226.67 873.9,230 874.55,234 875.1,238 875.9,242 875.88,246 877,250 877.91,254.25 879.29,258.5 881.52,262.75 882.6,267 883.55,270.77 885.04,274.53 886.1,278.3 886.68,282.53 887.59,286.77 888.3,291 887.86,295.47 887.8,299.93 889.45,304.4 888.57,308.87 888.25,313.33 889,317.8 890.61,322.05 891.8,326.3 892.46,330.54 891.65,334.78 892.56,339.02 892.35,343.26 892.8,347.5 893.46,351.38 893.28,355.25 893.93,359.12 895.3,363 896.95,366.77 897.62,370.53 897.9,374.3 899.08,371.85 900.3,369.4 901.9,372.9 902.34,377.2 902.19,381.5 902.9,385.8 903.5,385.8 904.25,381.88 903.98,377.95 905.11,374.03 904.7,370.1 906.6,368.7 907.17,364.74 907.39,360.78 907.76,356.82 906.77,352.86 907.3,348.9 908.36,344.65 910.9,340.4 914.4,337.6 914.27,333.35 914.59,329.1 914.78,324.85 915.8,320.6 915.36,316.94 916.45,313.28 917.23,309.62 916.85,305.96 917.2,302.3 918.38,299 918.79,295.7 918.6,292.4 918.04,288.72 919.04,285.04 918.86,281.36 918.55,277.68 919.3,274 921.47,270.7 921.78,267.4 923.6,264.1 924.75,260.58 925.93,257.05 927.48,253.53 927.8,250 928.65,246 928.79,242 929.46,238 929.58,234 930.7,230 932.55,226.67 933.69,223.33 934,220 934.02,216.17 934.2,212.33 935.4,208.5 934.61,204.25 934.6,200 933.86,196.25 934.24,192.5 933.75,188.75 932.6,185 932.29,181.25 930.18,177.5 930.51,173.75 929.2,170 928.64,166.37 927.63,162.73 926.5,159.1 925.63,155.15 923.2,151.2 921.62,147.27 920.9,143.33 920.6,139.4 920.86,135.1 921,130.8 920.43,126.5 920,122.2 918.78,118.7 918.35,115.2 917.3,111.7 917.56,107.75 916.37,103.8 916.57,99.85 916.7,95.9 915.64,91.5 914.77,87.1 914.7,82.7 914,78.3 912.84,73.9 912.7,69.5 911.95,65.77 911.46,62.03 911.7,58.3 909.8,56.4 909.82,52.87 908.49,49.33 909,45.8 908.8,44.5 905,41.2" fill="#020000" stroke="#ff7000" stroke-width="0.9" stroke-linejoin="round" filter="url(#bl05)"/>
<line x1="826.16" y1="208.5" x2="971.24" y2="208.5" stroke="#c8c8c8" stroke-width="1.1" stroke-dasharray="19.7 11.4"/>
<line x1="840.8" y1="201.5" x2="840.8" y2="208.5" stroke="#c8c8c8" stroke-width="1.1" />
<line x1="838.8" y1="208.5" x2="838.8" y2="216" stroke="#c8c8c8" stroke-width="1.1" />
<line x1="872" y1="196.5" x2="872" y2="208.5" stroke="#c8c8c8" stroke-width="1.1" />
<line x1="870" y1="208.5" x2="870" y2="218" stroke="#c8c8c8" stroke-width="1.1" />
<line x1="934.4" y1="195" x2="934.4" y2="208.5" stroke="#c8c8c8" stroke-width="1.1" />
<line x1="932.4" y1="208.5" x2="932.4" y2="218.5" stroke="#c8c8c8" stroke-width="1.1" />
<line x1="965.6" y1="195" x2="965.6" y2="208.5" stroke="#c8c8c8" stroke-width="1.1" />
<line x1="963.6" y1="208.5" x2="963.6" y2="216" stroke="#c8c8c8" stroke-width="1.1" />
</g>
<line x1="777.8" y1="400" x2="777.8" y2="409.4" stroke="#1e1e1e" stroke-width="1.7" />
<line x1="840.2" y1="400" x2="840.2" y2="409.4" stroke="#1e1e1e" stroke-width="1.7" />
<line x1="902.6" y1="400" x2="902.6" y2="409.4" stroke="#1e1e1e" stroke-width="1.7" />
<line x1="965" y1="400" x2="965" y2="409.4" stroke="#1e1e1e" stroke-width="1.7" />
<line x1="1027.4" y1="400" x2="1027.4" y2="409.4" stroke="#1e1e1e" stroke-width="1.7" />
<line x1="809" y1="400" x2="809" y2="404.9" stroke="#1e1e1e" stroke-width="1.7" />
<line x1="871.4" y1="400" x2="871.4" y2="404.9" stroke="#1e1e1e" stroke-width="1.7" />
<line x1="933.8" y1="400" x2="933.8" y2="404.9" stroke="#1e1e1e" stroke-width="1.7" />
<line x1="996.2" y1="400" x2="996.2" y2="404.9" stroke="#1e1e1e" stroke-width="1.7" />
<line x1="742" y1="312.3" x2="750" y2="312.3" stroke="#1e1e1e" stroke-width="1.7" />
<line x1="742" y1="208.5" x2="750" y2="208.5" stroke="#1e1e1e" stroke-width="1.7" />
<line x1="742" y1="104.7" x2="750" y2="104.7" stroke="#1e1e1e" stroke-width="1.7" />
<line x1="745.6" y1="364.2" x2="750" y2="364.2" stroke="#1e1e1e" stroke-width="1.7" />
<line x1="745.6" y1="260.4" x2="750" y2="260.4" stroke="#1e1e1e" stroke-width="1.7" />
<line x1="745.6" y1="156.6" x2="750" y2="156.6" stroke="#1e1e1e" stroke-width="1.7" />
<line x1="745.6" y1="52.8" x2="750" y2="52.8" stroke="#1e1e1e" stroke-width="1.7" />
<rect x="750" y="16.9" width="305.2" height="383.1" fill="none" stroke="#000" stroke-width="1.7"/>
<text transform="translate(695.7 117) scale(1.1100 1)" font-size="33.6" fill="#222">50</text>
<text transform="translate(714.35 220.8) scale(1.1100 1)" font-size="33.6" fill="#222">0</text>
<text transform="translate(695.7 324.6) scale(1.1100 1)" font-size="33.6" fill="#222">50</text>
<text transform="translate(664.88 326.15) scale(1.4401 0.9)" font-size="33.6" fill="#222">−</text>
<text transform="translate(895.4 449) scale(1.1100 1)" font-size="33.6" fill="#222">0</text>
<text transform="translate(957.8 449) scale(1.1100 1)" font-size="33.6" fill="#222">2</text>
<text transform="translate(1020.2 449) scale(1.1100 1)" font-size="33.6" fill="#222">4</text>
<text transform="translate(774.5 449) scale(1.1100 1)" font-size="33.6" fill="#222">4</text>
<text transform="translate(836.9 449) scale(1.1100 1)" font-size="33.6" fill="#222">2</text>
<text transform="translate(742.8 450.55) scale(1.4273 0.9)" font-size="33.6" fill="#222">−</text>
<text transform="translate(809.48 450.55) scale(1.4401 0.9)" font-size="33.6" fill="#222">−</text>
<text transform="translate(841.57 501) scale(1.2358 1)" font-size="34.6" fill="#222"><tspan font-style="italic">B</tspan></text>
<text transform="translate(869.87 506.3) scale(1.1605 1)" font-size="23.5" fill="#222"><tspan font-style="italic">z</tspan></text>
<text transform="translate(895.45 501) scale(1.2113 1)" font-size="34" fill="#222">(mT)</text>
<text transform="translate(652.9 259.5) rotate(-90) scale(1.1581 1)" font-size="35" fill="#222"><tspan font-style="italic">I</tspan></text>
<text transform="translate(652.9 231.34) rotate(-90) scale(1.0721 1)" font-size="34" fill="#222">(µA)</text>
<text transform="translate(768.79 58.4) scale(1.1841 1)" font-size="34" fill="#000">(b)</text>
<rect x="1073" y="16.9" width="31" height="383.1" fill="url(#hot)"/>
<line x1="1099" y1="304.25" x2="1104" y2="304.25" stroke="#2a2a2a" stroke-width="1.4" />
<line x1="1099" y1="208.5" x2="1104" y2="208.5" stroke="#2a2a2a" stroke-width="1.4" />
<line x1="1099" y1="112.75" x2="1104" y2="112.75" stroke="#2a2a2a" stroke-width="1.4" />
<rect x="1073" y="16.9" width="31" height="383.1" fill="none" stroke="#1c1c1c" stroke-width="1.6"/>
<text transform="translate(1115.6 409.7) scale(1.1100 1)" font-size="33.6" fill="#222">0</text>
<text transform="translate(1115.6 315.25) scale(1.1100 1)" font-size="33.6" fill="#222">0</text>
<text transform="translate(1135.15 315.25) scale(1.1100 1)" font-size="33.6" fill="#222">.</text>
<text transform="translate(1145.47 315.25) scale(1.1100 1)" font-size="33.6" fill="#222">5</text>
<text transform="translate(1115.6 219.5) scale(1.1100 1)" font-size="33.6" fill="#222">1</text>
<text transform="translate(1135.15 219.5) scale(1.1100 1)" font-size="33.6" fill="#222">.</text>
<text transform="translate(1145.47 219.5) scale(1.1100 1)" font-size="33.6" fill="#222">0</text>
<text transform="translate(1115.6 123.75) scale(1.1100 1)" font-size="33.6" fill="#222">1</text>
<text transform="translate(1135.15 123.75) scale(1.1100 1)" font-size="33.6" fill="#222">.</text>
<text transform="translate(1145.47 123.75) scale(1.1100 1)" font-size="33.6" fill="#222">5</text>
<text transform="translate(1115.6 28) scale(1.1100 1)" font-size="33.6" fill="#222">2</text>
<text transform="translate(1135.15 28) scale(1.1100 1)" font-size="33.6" fill="#222">.</text>
<text transform="translate(1145.47 28) scale(1.1100 1)" font-size="33.6" fill="#222">0</text>
<text transform="translate(1211.5 280.84) rotate(-90) scale(1.2934 1)" font-size="34" fill="#222">d<tspan font-style="italic">V</tspan>/d<tspan font-style="italic">I</tspan></text>
<text transform="translate(1211.5 166.05) rotate(-90) scale(1.0752 1)" font-size="34" fill="#222">(Ω)</text>
</g>
<g id="panel_c">
<g clip-path="url(#clipc)">
<rect x="127.9" y="574.2" width="305.1" height="383" fill="#ff1c00"/>
<ellipse cx="127.9" cy="574.2" rx="58" ry="100" fill="url(#ccorner)"/>
<ellipse cx="433" cy="574.2" rx="58" ry="100" fill="url(#ccorner)"/>
<ellipse cx="127.9" cy="957.2" rx="58" ry="100" fill="url(#ccorner)"/>
<ellipse cx="433" cy="957.2" rx="58" ry="100" fill="url(#ccorner)"/>
<polyline points="126.5,705 131,716 135,726 138.5,735 141.5,741.5 141.5,741.5 143.4,728 145.8,712 149,696 152.2,683.2 154.6,676.4 157,673.6 159.4,676.4 162.1,683.2 165.8,696 169.8,712 173,727" fill="none" stroke="url(#gU1o)" stroke-width="22" stroke-linejoin="round" stroke-linecap="round" filter="url(#cb6)" opacity="1"/>
<polyline points="126.5,705 131,716 135,726 138.5,735 141.5,741.5 141.5,741.5 143.4,728 145.8,712 149,696 152.2,683.2 154.6,676.4 157,673.6 159.4,676.4 162.1,683.2 165.8,696 169.8,712 173,727" fill="none" stroke="url(#gU1)" stroke-width="10.5" stroke-linejoin="round" stroke-linecap="round" filter="url(#cb3)" opacity="1"/>
<polyline points="397.6,725.5 400,712 403.2,696 406.4,683.2 409.6,675.6 412,673 414.9,675.6 418.4,684.8 421.6,697.6 424.8,713.6 427.6,732 428.8,743 428.8,743 431.2,733 434.5,722" fill="none" stroke="url(#gU1o)" stroke-width="22" stroke-linejoin="round" stroke-linecap="round" filter="url(#cb6)" opacity="1"/>
<polyline points="397.6,725.5 400,712 403.2,696 406.4,683.2 409.6,675.6 412,673 414.9,675.6 418.4,684.8 421.6,697.6 424.8,713.6 427.6,732 428.8,743 428.8,743 431.2,733 434.5,722" fill="none" stroke="url(#gU1)" stroke-width="10.5" stroke-linejoin="round" stroke-linecap="round" filter="url(#cb3)" opacity="1"/>
<polyline points="126.5,826 131.5,812 135.4,798 139.4,787 139.4,787 141.8,797 145,813 148.2,829 151.4,843.4 154.6,854.6 156.6,858.8 159.4,851.4 162.6,838.6 165.8,822.6 168.2,809.8 170.3,801.4" fill="none" stroke="url(#gL1o)" stroke-width="22" stroke-linejoin="round" stroke-linecap="round" filter="url(#cb6)" opacity="1"/>
<polyline points="126.5,826 131.5,812 135.4,798 139.4,787 139.4,787 141.8,797 145,813 148.2,829 151.4,843.4 154.6,854.6 156.6,858.8 159.4,851.4 162.6,838.6 165.8,822.6 168.2,809.8 170.3,801.4" fill="none" stroke="url(#gL1)" stroke-width="10.5" stroke-linejoin="round" stroke-linecap="round" filter="url(#cb3)" opacity="1"/>
<polyline points="395.3,800.5 397.6,811.4 400.8,827.4 404,841.8 407.2,852.2 410.4,857.2 413.6,851.4 416.8,840.2 420,825.8 423.2,808.2 425.6,793.8 427.2,787 427.2,787 429.6,800.2 432,813 434.5,821" fill="none" stroke="url(#gL1o)" stroke-width="22" stroke-linejoin="round" stroke-linecap="round" filter="url(#cb6)" opacity="1"/>
<polyline points="395.3,800.5 397.6,811.4 400.8,827.4 404,841.8 407.2,852.2 410.4,857.2 413.6,851.4 416.8,840.2 420,825.8 423.2,808.2 425.6,793.8 427.2,787 427.2,787 429.6,800.2 432,813 434.5,821" fill="none" stroke="url(#gL1)" stroke-width="10.5" stroke-linejoin="round" stroke-linecap="round" filter="url(#cb3)" opacity="1"/>
<polyline points="157,673.6 159.4,676.4 162.1,683.2 165.8,696" fill="none" stroke="#ffee40" stroke-width="6" stroke-linejoin="round" stroke-linecap="round" filter="url(#cb2)" opacity="1"/>
<polyline points="403.2,696 406.4,683.2 409.6,675.6 412,673" fill="none" stroke="#ffee40" stroke-width="6" stroke-linejoin="round" stroke-linecap="round" filter="url(#cb2)" opacity="1"/>
<polyline points="156.6,858.8 159.4,851.4 162.6,838.6 165.8,822.6" fill="none" stroke="#ffee40" stroke-width="6" stroke-linejoin="round" stroke-linecap="round" filter="url(#cb2)" opacity="1"/>
<polyline points="400.8,827.4 404,841.8 407.2,852.2 410.4,857.2" fill="none" stroke="#ffee40" stroke-width="6" stroke-linejoin="round" stroke-linecap="round" filter="url(#cb2)" opacity="1"/>
<ellipse cx="158.6" cy="667.5" rx="4" ry="6.5" fill="#ffff58" filter="url(#cb3)"/>
<ellipse cx="410.4" cy="666.5" rx="4" ry="6.5" fill="#ffff58" filter="url(#cb3)"/>
<ellipse cx="158.6" cy="865.5" rx="4" ry="6.5" fill="#ffff58" filter="url(#cb3)"/>
<ellipse cx="408.6" cy="865" rx="4" ry="6.5" fill="#ffff58" filter="url(#cb3)"/>
<ellipse cx="127" cy="689" rx="4.5" ry="11" fill="#ffff58" filter="url(#cb3)"/>
<ellipse cx="434" cy="700" rx="4" ry="10" fill="#ffff58" filter="url(#cb3)"/>
<ellipse cx="127" cy="842" rx="4.5" ry="11" fill="#ffff58" filter="url(#cb3)"/>
<ellipse cx="434" cy="834" rx="4" ry="10" fill="#ffff58" filter="url(#cb3)"/>
<polyline points="173,727 176.2,712 179.4,689.6 182.6,664 185.8,644.8 188,635 190,631.5 192.2,635 195.4,648 198.6,667.2 201.8,686.4 205,705.6 206.6,716" fill="none" stroke="#ff4a00" stroke-width="11" stroke-linejoin="round" stroke-linecap="round" filter="url(#cb3)" opacity="0.55"/>
<polyline points="364.3,713 366.4,696 368.8,673.6 371.2,652.8 373.3,636 375.4,626 378.4,622.5 381.4,626 384,637.5 386.4,652.8 388.8,670.4 392,692.8 395.2,712 397.6,725.5" fill="none" stroke="#ff4a00" stroke-width="11" stroke-linejoin="round" stroke-linecap="round" filter="url(#cb3)" opacity="0.55"/>
<polyline points="170.3,801.4 173,817.8 176.2,838.6 180.2,864.2 183.4,883.4 186.6,897.8 189,910 190.6,919.5 192.2,910 194.6,893 197,873.8 199.4,851.4 201.5,832.2 203.4,816.5" fill="none" stroke="#ff4a00" stroke-width="11" stroke-linejoin="round" stroke-linecap="round" filter="url(#cb3)" opacity="0.55"/>
<polyline points="361.6,812.5 364,829 366.4,848.2 369.6,870.6 372.8,889.8 375.5,903 377.6,910.5 380,899.4 383.2,883.4 386.4,864.2 389.6,841.8 392,822.6 394.4,805 395.3,800.5" fill="none" stroke="#ff4a00" stroke-width="11" stroke-linejoin="round" stroke-linecap="round" filter="url(#cb3)" opacity="0.55"/>
<polyline points="192.2,635 195.4,648 198.6,667.2 201.8,686.4 205,705.6 206.6,716" fill="none" stroke="url(#gU2)" stroke-width="7" stroke-linejoin="round" stroke-linecap="round" filter="url(#cb1)" opacity="1"/>
<polyline points="364.3,713 366.4,696 368.8,673.6 371.2,652.8 373.3,636 375.4,626 378.4,622.5" fill="none" stroke="url(#gU2)" stroke-width="7" stroke-linejoin="round" stroke-linecap="round" filter="url(#cb1)" opacity="1"/>
<polyline points="190.6,919.5 192.2,910 194.6,893 197,873.8 199.4,851.4 201.5,832.2 203.4,816.5" fill="none" stroke="url(#gL2)" stroke-width="7" stroke-linejoin="round" stroke-linecap="round" filter="url(#cb1)" opacity="1"/>
<polyline points="361.6,812.5 364,829 366.4,848.2 369.6,870.6 372.8,889.8 375.5,903 377.6,910.5" fill="none" stroke="url(#gL2)" stroke-width="7" stroke-linejoin="round" stroke-linecap="round" filter="url(#cb1)" opacity="1"/>
<polyline points="173,727 176.2,712 179.4,689.6 182.6,664 185.8,644.8" fill="none" stroke="#ff8a10" stroke-width="4" stroke-linejoin="round" stroke-linecap="round" filter="url(#cb1)" opacity="0.6"/>
<polyline points="386.4,652.8 388.8,670.4 392,692.8 395.2,712 397.6,725.5" fill="none" stroke="#ff8a10" stroke-width="4" stroke-linejoin="round" stroke-linecap="round" filter="url(#cb1)" opacity="0.6"/>
<polyline points="170.3,801.4 173,817.8 176.2,838.6 180.2,864.2 183.4,883.4" fill="none" stroke="#ff8a10" stroke-width="4" stroke-linejoin="round" stroke-linecap="round" filter="url(#cb1)" opacity="0.6"/>
<polyline points="386.4,864.2 389.6,841.8 392,822.6 394.4,805 395.3,800.5" fill="none" stroke="#ff8a10" stroke-width="4" stroke-linejoin="round" stroke-linecap="round" filter="url(#cb1)" opacity="0.6"/>
<polyline points="206.6,716 208.2,696 210.6,664 213,632" fill="none" stroke="#ff9a18" stroke-width="3.2" stroke-linejoin="round" stroke-linecap="round" filter="url(#cb1)" opacity="0.8"/>
<polyline points="356,632 358.4,664 361.6,692 364.3,713" fill="none" stroke="#ff9a18" stroke-width="3.2" stroke-linejoin="round" stroke-linecap="round" filter="url(#cb1)" opacity="0.8"/>
<polyline points="203.4,816.5 205.8,837 208.2,861 210.6,889.8" fill="none" stroke="#ff9a18" stroke-width="3.2" stroke-linejoin="round" stroke-linecap="round" filter="url(#cb1)" opacity="0.8"/>
<polyline points="354.4,893 356.8,864.2 359.2,835.4 361.6,812.5" fill="none" stroke="#ff9a18" stroke-width="3.2" stroke-linejoin="round" stroke-linecap="round" filter="url(#cb1)" opacity="0.8"/>
<polyline points="245.2,691 246.8,678 248.4,660 249.3,635 249.7,610 249.9,572" fill="none" stroke="#ffc020" stroke-width="3.4" stroke-linejoin="round" stroke-linecap="round" filter="url(#cb1)" opacity="0.95"/>
<polyline points="327.1,684 328.6,672 330.4,655 331.8,635 332.7,610 333.3,572" fill="none" stroke="#ffc020" stroke-width="3.4" stroke-linejoin="round" stroke-linecap="round" filter="url(#cb1)" opacity="0.95"/>
<polyline points="235.8,960 236.6,920 237.6,880 239,860 240.4,851 241.8,846" fill="none" stroke="#ffc020" stroke-width="3.4" stroke-linejoin="round" stroke-linecap="round" filter="url(#cb1)" opacity="0.95"/>
<polyline points="319.2,960 319.8,925 320.5,900 321.8,870 322.8,852 323.7,838" fill="none" stroke="#ffc020" stroke-width="3.4" stroke-linejoin="round" stroke-linecap="round" filter="url(#cb1)" opacity="0.95"/>
<polygon points="126.5,705 131,716 135,726 138.5,735 141.5,741.5 143.4,728 145.8,712 149,696 152.2,683.2 154.6,676.4 157,673.6 159.4,676.4 162.1,683.2 165.8,696 169.8,712 173,727 176.2,712 179.4,689.6 182.6,664 185.8,644.8 188,635 190,631.5 192.2,635 195.4,648 198.6,667.2 201.8,686.4 205,705.6 206.6,716 208.2,696 210.6,664 213,632 216.2,600 218.2,572 237.7,572 238.6,610 239.8,635 241.8,660 243.6,678 245.2,691 246.8,678 248.4,660 249.3,635 249.7,610 249.9,572 321.8,572 322.2,610 323,635 324.4,655 325.8,672 327.1,684 328.6,672 330.4,655 331.8,635 332.7,610 333.3,572 352.3,572 353.6,600 356,632 358.4,664 361.6,692 364.3,713 366.4,696 368.8,673.6 371.2,652.8 373.3,636 375.4,626 378.4,622.5 381.4,626 384,637.5 386.4,652.8 388.8,670.4 392,692.8 395.2,712 397.6,725.5 400,712 403.2,696 406.4,683.2 409.6,675.6 412,673 414.9,675.6 418.4,684.8 421.6,697.6 424.8,713.6 427.6,732 428.8,743 431.2,733 434.5,722 434.5,821 432,813 429.6,800.2 427.2,787 425.6,793.8 423.2,808.2 420,825.8 416.8,840.2 413.6,851.4 410.4,857.2 407.2,852.2 404,841.8 400.8,827.4 397.6,811.4 395.3,800.5 394.4,805 392,822.6 389.6,841.8 386.4,864.2 383.2,883.4 380,899.4 377.6,910.5 375.5,903 372.8,889.8 369.6,870.6 366.4,848.2 364,829 361.6,812.5 359.2,835.4 356.8,864.2 354.4,893 351.2,935 350.4,960 332.3,960 331,925 329.3,900 327,870 325.2,852 323.7,838 322.8,852 321.8,870 320.5,900 319.8,925 319.2,960 247.6,960 247,920 246,880 244.2,860 243,851 241.8,846 240.4,851 239,860 237.6,880 236.6,920 235.8,960 216.8,960 214,935 212.7,915.4 210.6,889.8 208.2,861 205.8,837 203.4,816.5 201.5,832.2 199.4,851.4 197,873.8 194.6,893 192.2,910 190.6,919.5 189,910 186.6,897.8 183.4,883.4 180.2,864.2 176.2,838.6 173,817.8 170.3,801.4 168.2,809.8 165.8,822.6 162.6,838.6 159.4,851.4 156.6,858.8 154.6,854.6 151.4,843.4 148.2,829 145,813 141.8,797 139.4,787 135.4,798 131.5,812 126.5,826" fill="#0a0000" filter="url(#cb1)"/>
<line x1="188.6" y1="633" x2="188.6" y2="615" stroke="#0c0000" stroke-width="1.4" filter="url(#cb1)" opacity="0.6"/>
<line x1="191.4" y1="633" x2="191.4" y2="619" stroke="#0c0000" stroke-width="1.4" filter="url(#cb1)" opacity="0.6"/>
<line x1="376.6" y1="624" x2="376.6" y2="606" stroke="#0c0000" stroke-width="1.4" filter="url(#cb1)" opacity="0.6"/>
<line x1="380.2" y1="624" x2="380.2" y2="610" stroke="#0c0000" stroke-width="1.4" filter="url(#cb1)" opacity="0.6"/>
<line x1="188.8" y1="915" x2="188.8" y2="930" stroke="#0c0000" stroke-width="1.4" filter="url(#cb1)" opacity="0.6"/>
<line x1="192" y1="915" x2="192" y2="926" stroke="#0c0000" stroke-width="1.4" filter="url(#cb1)" opacity="0.6"/>
<line x1="376" y1="906" x2="376" y2="922" stroke="#0c0000" stroke-width="1.4" filter="url(#cb1)" opacity="0.6"/>
<line x1="379.4" y1="906" x2="379.4" y2="918" stroke="#0c0000" stroke-width="1.4" filter="url(#cb1)" opacity="0.6"/>
<line x1="127.9" y1="765.8" x2="433" y2="765.8" stroke="#9a9a9a" stroke-width="1.3" stroke-dasharray="19.8 11.25"/>
<line x1="142.2" y1="765.8" x2="142.2" y2="745" stroke="#d2d2d2" stroke-width="1.1" stroke-dasharray="19.8 11.25"/>
<line x1="173.1" y1="765.8" x2="173.1" y2="728" stroke="#d2d2d2" stroke-width="1.1" stroke-dasharray="19.8 11.25"/>
<line x1="206.2" y1="765.8" x2="206.2" y2="717" stroke="#d2d2d2" stroke-width="1.1" stroke-dasharray="19.8 11.25"/>
<line x1="245.2" y1="765.8" x2="245.2" y2="691" stroke="#d2d2d2" stroke-width="1.1" stroke-dasharray="19.8 11.25"/>
<line x1="327.1" y1="765.8" x2="327.1" y2="684" stroke="#d2d2d2" stroke-width="1.1" stroke-dasharray="19.8 11.25"/>
<line x1="364.3" y1="765.8" x2="364.3" y2="716" stroke="#d2d2d2" stroke-width="1.1" stroke-dasharray="19.8 11.25"/>
<line x1="397.7" y1="765.8" x2="397.7" y2="727" stroke="#d2d2d2" stroke-width="1.1" stroke-dasharray="19.8 11.25"/>
<line x1="427.4" y1="765.8" x2="427.4" y2="746" stroke="#d2d2d2" stroke-width="1.1" stroke-dasharray="19.8 11.25"/>
<line x1="139.4" y1="765.8" x2="139.4" y2="786" stroke="#d2d2d2" stroke-width="1.1" stroke-dasharray="19.8 11.25"/>
<line x1="170.3" y1="765.8" x2="170.3" y2="801" stroke="#d2d2d2" stroke-width="1.1" stroke-dasharray="19.8 11.25"/>
<line x1="203.4" y1="765.8" x2="203.4" y2="815" stroke="#d2d2d2" stroke-width="1.1" stroke-dasharray="19.8 11.25"/>
<line x1="241.4" y1="765.8" x2="241.4" y2="846" stroke="#d2d2d2" stroke-width="1.1" stroke-dasharray="19.8 11.25"/>
<line x1="323.7" y1="765.8" x2="323.7" y2="838" stroke="#d2d2d2" stroke-width="1.1" stroke-dasharray="19.8 11.25"/>
<line x1="360.6" y1="765.8" x2="360.6" y2="810" stroke="#d2d2d2" stroke-width="1.1" stroke-dasharray="19.8 11.25"/>
<line x1="395.2" y1="765.8" x2="395.2" y2="799" stroke="#d2d2d2" stroke-width="1.1" stroke-dasharray="19.8 11.25"/>
<line x1="425.5" y1="765.8" x2="425.5" y2="786" stroke="#d2d2d2" stroke-width="1.1" stroke-dasharray="19.8 11.25"/>
</g>
<line x1="146" y1="957.2" x2="146" y2="967.1" stroke="#1e1e1e" stroke-width="1.7" />
<line x1="215.25" y1="957.2" x2="215.25" y2="967.1" stroke="#1e1e1e" stroke-width="1.7" />
<line x1="284.5" y1="957.2" x2="284.5" y2="967.1" stroke="#1e1e1e" stroke-width="1.7" />
<line x1="353.75" y1="957.2" x2="353.75" y2="967.1" stroke="#1e1e1e" stroke-width="1.7" />
<line x1="423" y1="957.2" x2="423" y2="967.1" stroke="#1e1e1e" stroke-width="1.7" />
<line x1="180.62" y1="957.2" x2="180.62" y2="962.5" stroke="#1e1e1e" stroke-width="1.7" />
<line x1="249.88" y1="957.2" x2="249.88" y2="962.5" stroke="#1e1e1e" stroke-width="1.7" />
<line x1="319.12" y1="957.2" x2="319.12" y2="962.5" stroke="#1e1e1e" stroke-width="1.7" />
<line x1="388.38" y1="957.2" x2="388.38" y2="962.5" stroke="#1e1e1e" stroke-width="1.7" />
<line x1="118.6" y1="957.4" x2="127.9" y2="957.4" stroke="#1e1e1e" stroke-width="1.7" />
<line x1="118.6" y1="861.6" x2="127.9" y2="861.6" stroke="#1e1e1e" stroke-width="1.7" />
<line x1="118.6" y1="765.8" x2="127.9" y2="765.8" stroke="#1e1e1e" stroke-width="1.7" />
<line x1="118.6" y1="670" x2="127.9" y2="670" stroke="#1e1e1e" stroke-width="1.7" />
<line x1="118.6" y1="574.2" x2="127.9" y2="574.2" stroke="#1e1e1e" stroke-width="1.7" />
<line x1="122.5" y1="909.5" x2="127.9" y2="909.5" stroke="#1e1e1e" stroke-width="1.7" />
<line x1="122.5" y1="813.7" x2="127.9" y2="813.7" stroke="#1e1e1e" stroke-width="1.7" />
<line x1="122.5" y1="717.9" x2="127.9" y2="717.9" stroke="#1e1e1e" stroke-width="1.7" />
<line x1="122.5" y1="622.1" x2="127.9" y2="622.1" stroke="#1e1e1e" stroke-width="1.7" />
<rect x="127.9" y="574.2" width="305.1" height="383" fill="none" stroke="#000" stroke-width="1.7"/>
<text transform="translate(74.8 586.4) scale(1.1100 1)" font-size="33.6" fill="#222">20</text>
<text transform="translate(74.8 682.2) scale(1.1100 1)" font-size="33.6" fill="#222">10</text>
<text transform="translate(93.45 778) scale(1.1100 1)" font-size="33.6" fill="#222">0</text>
<text transform="translate(74.8 873.8) scale(1.1100 1)" font-size="33.6" fill="#222">10</text>
<text transform="translate(43.98 875.35) scale(1.4401 0.9)" font-size="33.6" fill="#222">−</text>
<text transform="translate(74.8 969.6) scale(1.1100 1)" font-size="33.6" fill="#222">20</text>
<text transform="translate(43.98 971.15) scale(1.4401 0.9)" font-size="33.6" fill="#222">−</text>
<text transform="translate(276.9 1000.2) scale(1.1100 1)" font-size="33.6" fill="#222">0</text>
<text transform="translate(346.15 1000.2) scale(1.1100 1)" font-size="33.6" fill="#222">2</text>
<text transform="translate(415.4 1000.2) scale(1.1100 1)" font-size="33.6" fill="#222">4</text>
<text transform="translate(143.2 1000.2) scale(1.1100 1)" font-size="33.6" fill="#222">4</text>
<text transform="translate(114 1001.75) scale(1.4273 0.9)" font-size="33.6" fill="#222">−</text>
<text transform="translate(212.45 1000.2) scale(1.1100 1)" font-size="33.6" fill="#222">2</text>
<text transform="translate(183.25 1001.75) scale(1.4273 0.9)" font-size="33.6" fill="#222">−</text>
<text transform="translate(214.42 1048.4) scale(1.2358 1)" font-size="34.6" fill="#222"><tspan font-style="italic">B</tspan></text>
<text transform="translate(242.72 1053.7) scale(1.1605 1)" font-size="23.5" fill="#222"><tspan font-style="italic">z</tspan></text>
<text transform="translate(268.3 1048.4) scale(1.2113 1)" font-size="34" fill="#222">(mT)</text>
<text transform="translate(28 814.7) rotate(-90) scale(1.1581 1)" font-size="35" fill="#222"><tspan font-style="italic">I</tspan></text>
<text transform="translate(28 786.54) rotate(-90) scale(1.0721 1)" font-size="34" fill="#222">(µA)</text>
<text transform="translate(139.07 607.8) scale(1.1282 1)" font-size="34" fill="#fff">(c)</text>
<rect x="451" y="574.2" width="31" height="383" fill="url(#hot)"/>
<line x1="477" y1="949.3" x2="482" y2="949.3" stroke="#2a2a2a" stroke-width="1.4" />
<line x1="477" y1="895.05" x2="482" y2="895.05" stroke="#2a2a2a" stroke-width="1.4" />
<line x1="477" y1="840.8" x2="482" y2="840.8" stroke="#2a2a2a" stroke-width="1.4" />
<line x1="477" y1="786.55" x2="482" y2="786.55" stroke="#2a2a2a" stroke-width="1.4" />
<line x1="477" y1="732.3" x2="482" y2="732.3" stroke="#2a2a2a" stroke-width="1.4" />
<line x1="477" y1="678.05" x2="482" y2="678.05" stroke="#2a2a2a" stroke-width="1.4" />
<line x1="477" y1="623.8" x2="482" y2="623.8" stroke="#2a2a2a" stroke-width="1.4" />
<rect x="451" y="574.2" width="31" height="383" fill="none" stroke="#1c1c1c" stroke-width="1.6"/>
<text transform="translate(493.5 960.4) scale(1.1100 1)" font-size="33.6" fill="#222">0</text>
<text transform="translate(493.5 906.15) scale(1.1100 1)" font-size="33.6" fill="#222">0</text>
<text transform="translate(513.05 906.15) scale(1.1100 1)" font-size="33.6" fill="#222">.</text>
<text transform="translate(523.37 906.15) scale(1.1100 1)" font-size="33.6" fill="#222">2</text>
<text transform="translate(493.5 851.9) scale(1.1100 1)" font-size="33.6" fill="#222">0</text>
<text transform="translate(513.05 851.9) scale(1.1100 1)" font-size="33.6" fill="#222">.</text>
<text transform="translate(523.37 851.9) scale(1.1100 1)" font-size="33.6" fill="#222">4</text>
<text transform="translate(493.5 797.65) scale(1.1100 1)" font-size="33.6" fill="#222">0</text>
<text transform="translate(513.05 797.65) scale(1.1100 1)" font-size="33.6" fill="#222">.</text>
<text transform="translate(523.37 797.65) scale(1.1100 1)" font-size="33.6" fill="#222">6</text>
<text transform="translate(493.5 743.4) scale(1.1100 1)" font-size="33.6" fill="#222">0</text>
<text transform="translate(513.05 743.4) scale(1.1100 1)" font-size="33.6" fill="#222">.</text>
<text transform="translate(523.37 743.4) scale(1.1100 1)" font-size="33.6" fill="#222">8</text>
<text transform="translate(493.5 689.15) scale(1.1100 1)" font-size="33.6" fill="#222">1</text>
<text transform="translate(513.05 689.15) scale(1.1100 1)" font-size="33.6" fill="#222">.</text>
<text transform="translate(523.37 689.15) scale(1.1100 1)" font-size="33.6" fill="#222">0</text>
<text transform="translate(493.5 634.9) scale(1.1100 1)" font-size="33.6" fill="#222">1</text>
<text transform="translate(513.05 634.9) scale(1.1100 1)" font-size="33.6" fill="#222">.</text>
<text transform="translate(523.37 634.9) scale(1.1100 1)" font-size="33.6" fill="#222">2</text>
<text transform="translate(586.9 847.34) rotate(-90) scale(1.2934 1)" font-size="34" fill="#222">d<tspan font-style="italic">V</tspan>/d<tspan font-style="italic">I</tspan></text>
<text transform="translate(586.9 732.55) rotate(-90) scale(1.0752 1)" font-size="34" fill="#222">(Ω)</text>
</g>
<g id="panel_d">
<g clip-path="url(#clipd)">
<rect x="750" y="574.2" width="297.9" height="383" fill="#0c0000"/>
<polygon points="796,556 893,556 890,578 868,640" fill="#560000" filter="url(#db6)" opacity="1"/>
<polygon points="810,556 891,556 888.5,580 868,630" fill="#ff1000" filter="url(#db4)" opacity="1"/>
<polygon points="822,556 889.5,556 887,582 867.5,617" fill="#ff9000" filter="url(#db4)" opacity="1"/>
<polygon points="829,556 887.5,556 884.5,584 865.5,607" fill="#ffff38" filter="url(#db4)" opacity="1"/>
<polygon points="966,556 1048,556 1006.4,634" fill="#560000" filter="url(#db6)" opacity="1"/>
<polygon points="976,556 1038,556 1006.4,624" fill="#ff1000" filter="url(#db4)" opacity="1"/>
<polygon points="985,556 1027,556 1005,606" fill="#ff6a00" filter="url(#db4)" opacity="1"/>
<polygon points="990,556 1020,556 1004,594" fill="#ffa000" filter="url(#db4)" opacity="1"/>
<polygon points="752,976 826,976 791.4,903" fill="#560000" filter="url(#db6)" opacity="1"/>
<polygon points="761,976 818,976 791.4,914" fill="#f01000" filter="url(#db4)" opacity="1"/>
<polygon points="770,976 810,976 791.4,930" fill="#ff6a00" filter="url(#db4)" opacity="1"/>
<polygon points="778,976 803,976 791.4,946" fill="#ffa800" filter="url(#db4)" opacity="1"/>
<polygon points="903,976 1000,976 935,885" fill="#560000" filter="url(#db6)" opacity="1"/>
<polygon points="907,976 990,976 935,897" fill="#ff1000" filter="url(#db4)" opacity="1"/>
<polygon points="911,976 979,976 935,909" fill="#ff9000" filter="url(#db4)" opacity="1"/>
<polygon points="916,976 969,976 935.5,919" fill="#ffff38" filter="url(#db25)" opacity="1"/>
<line x1="750" y1="765.5" x2="1047.9" y2="765.5" stroke="#fff" stroke-width="3.4" stroke-dasharray="19.9 11.15"/>
<line x1="867.6" y1="765.8" x2="867.6" y2="633.8" stroke="#fff" stroke-width="3.4" stroke-dasharray="20 10.9"/>
<line x1="1006.4" y1="765.8" x2="1006.4" y2="621.9" stroke="#fff" stroke-width="3.4" stroke-dasharray="20 10.9"/>
<line x1="791.4" y1="765.8" x2="791.4" y2="909.7" stroke="#fff" stroke-width="3.4" stroke-dasharray="20 10.9"/>
<line x1="929.7" y1="765.8" x2="929.7" y2="892.2" stroke="#fff" stroke-width="3.4" stroke-dasharray="20 10.9"/>
</g>
<text transform="translate(813.55 713.9) scale(1.3056 1)" font-size="34.6" fill="#fff"><tspan font-style="italic">B</tspan></text>
<text transform="translate(840.37 704.4) scale(1.1848 1)" font-size="23" fill="#fff">2</text>
<text transform="translate(842.66 719) scale(1.2202 1)" font-size="21.5" fill="#fff"><tspan font-style="italic">z</tspan></text>
<text transform="translate(957.05 709.2) scale(1.3056 1)" font-size="34.6" fill="#fff"><tspan font-style="italic">B</tspan></text>
<text transform="translate(982.39 699.7) scale(1.3444 1)" font-size="23" fill="#fff">1</text>
<text transform="translate(986.16 714.3) scale(1.2202 1)" font-size="21.5" fill="#fff"><tspan font-style="italic">z</tspan></text>
<text transform="translate(801.75 843.9) scale(1.3056 1)" font-size="34.6" fill="#fff"><tspan font-style="italic">B</tspan></text>
<text transform="translate(828.54 834.4) scale(1.1489 1)" font-size="23" fill="#fff">3</text>
<text transform="translate(830.86 849) scale(1.2202 1)" font-size="21.5" fill="#fff"><tspan font-style="italic">z</tspan></text>
<text transform="translate(938.65 843.9) scale(1.3056 1)" font-size="34.6" fill="#fff"><tspan font-style="italic">B</tspan></text>
<text transform="translate(966.23 834.4) scale(1.0192 1)" font-size="23" fill="#fff">4</text>
<text transform="translate(967.76 849) scale(1.2202 1)" font-size="21.5" fill="#fff"><tspan font-style="italic">z</tspan></text>
<text transform="translate(758 607.8) scale(1.1787 1)" font-size="34" fill="#fff">(d)</text>
<line x1="764.5" y1="957.2" x2="764.5" y2="965.6" stroke="#1e1e1e" stroke-width="1.7" />
<line x1="840.8" y1="957.2" x2="840.8" y2="965.6" stroke="#1e1e1e" stroke-width="1.7" />
<line x1="962" y1="957.2" x2="962" y2="965.6" stroke="#1e1e1e" stroke-width="1.7" />
<line x1="1038" y1="957.2" x2="1038" y2="965.6" stroke="#1e1e1e" stroke-width="1.7" />
<line x1="741.9" y1="957.4" x2="750" y2="957.4" stroke="#1e1e1e" stroke-width="1.7" />
<line x1="741.9" y1="861.6" x2="750" y2="861.6" stroke="#1e1e1e" stroke-width="1.7" />
<line x1="741.9" y1="765.8" x2="750" y2="765.8" stroke="#1e1e1e" stroke-width="1.7" />
<line x1="741.9" y1="670" x2="750" y2="670" stroke="#1e1e1e" stroke-width="1.7" />
<line x1="741.9" y1="574.2" x2="750" y2="574.2" stroke="#1e1e1e" stroke-width="1.7" />
<rect x="750" y="574.2" width="297.9" height="383" fill="none" stroke="#000" stroke-width="1.7"/>
<rect x="891.5" y="571.2" width="14.5" height="389" fill="#fff"/>
<rect x="887" y="571.2" width="23.8" height="23.8" fill="#fff"/>
<rect x="888" y="935.3" width="22" height="24.9" fill="#fff"/>
<line x1="889.2" y1="592.7" x2="899.4" y2="559.8" stroke="#000" stroke-width="1.5" />
<line x1="903.5" y1="592.7" x2="913.6" y2="559.8" stroke="#000" stroke-width="1.5" />
<line x1="887.4" y1="975.9" x2="896.9" y2="943.4" stroke="#000" stroke-width="1.5" />
<line x1="901.5" y1="975.9" x2="910.9" y2="943.4" stroke="#000" stroke-width="1.5" />
<text transform="translate(696 586.4) scale(1.1100 1)" font-size="33.6" fill="#222">10</text>
<text transform="translate(714.74 682.2) scale(1.1100 1)" font-size="33.6" fill="#222">5</text>
<text transform="translate(714.65 778) scale(1.1100 1)" font-size="33.6" fill="#222">0</text>
<text transform="translate(714.74 873.8) scale(1.1100 1)" font-size="33.6" fill="#222">5</text>
<text transform="translate(684.38 875.35) scale(1.4401 0.9)" font-size="33.6" fill="#222">−</text>
<text transform="translate(696 969.6) scale(1.1100 1)" font-size="33.6" fill="#222">10</text>
<text transform="translate(665.18 971.15) scale(1.4401 0.9)" font-size="33.6" fill="#222">−</text>
<text transform="translate(753 1000.2) scale(1.1100 1)" font-size="33.6" fill="#222">1</text>
<text transform="translate(772.55 1000.2) scale(1.1100 1)" font-size="33.6" fill="#222">.</text>
<text transform="translate(782.87 1000.2) scale(1.1100 1)" font-size="33.6" fill="#222">3</text>
<text transform="translate(844.9 1000.2) scale(1.1100 1)" font-size="33.6" fill="#222">1</text>
<text transform="translate(864.45 1000.2) scale(1.1100 1)" font-size="33.6" fill="#222">.</text>
<text transform="translate(874.77 1000.2) scale(1.1100 1)" font-size="33.6" fill="#222">2</text>
<text transform="translate(941.2 1000.2) scale(1.1100 1)" font-size="33.6" fill="#222">1</text>
<text transform="translate(960.75 1000.2) scale(1.1100 1)" font-size="33.6" fill="#222">.</text>
<text transform="translate(971.07 1000.2) scale(1.1100 1)" font-size="33.6" fill="#222">2</text>
<text transform="translate(1016.7 1000.2) scale(1.1100 1)" font-size="33.6" fill="#222">1</text>
<text transform="translate(1036.25 1000.2) scale(1.1100 1)" font-size="33.6" fill="#222">.</text>
<text transform="translate(1046.57 1000.2) scale(1.1100 1)" font-size="33.6" fill="#222">3</text>
<text transform="translate(722.75 1001.75) scale(1.4017 0.9)" font-size="33.6" fill="#222">−</text>
<text transform="translate(814.6 1001.75) scale(1.4273 0.9)" font-size="33.6" fill="#222">−</text>
<text transform="translate(843.47 1048.4) scale(1.2358 1)" font-size="34.6" fill="#222"><tspan font-style="italic">B</tspan></text>
<text transform="translate(871.77 1053.7) scale(1.1605 1)" font-size="23.5" fill="#222"><tspan font-style="italic">z</tspan></text>
<text transform="translate(897.35 1048.4) scale(1.2113 1)" font-size="34" fill="#222">(mT)</text>
<text transform="translate(682.3 814.7) rotate(-90) scale(1.1581 1)" font-size="35" fill="#222"><tspan font-style="italic">I</tspan></text>
<text transform="translate(682.3 786.54) rotate(-90) scale(1.0721 1)" font-size="34" fill="#222">(µA)</text>
<rect x="1073" y="574.2" width="31" height="383" fill="url(#hot)"/>
<line x1="1099" y1="946.8" x2="1104" y2="946.8" stroke="#2a2a2a" stroke-width="1.4" />
<line x1="1099" y1="857.75" x2="1104" y2="857.75" stroke="#2a2a2a" stroke-width="1.4" />
<line x1="1099" y1="768.7" x2="1104" y2="768.7" stroke="#2a2a2a" stroke-width="1.4" />
<line x1="1099" y1="679.65" x2="1104" y2="679.65" stroke="#2a2a2a" stroke-width="1.4" />
<line x1="1099" y1="590.6" x2="1104" y2="590.6" stroke="#2a2a2a" stroke-width="1.4" />
<rect x="1073" y="574.2" width="31" height="383" fill="none" stroke="#1c1c1c" stroke-width="1.6"/>
<text transform="translate(1115.6 957.9) scale(1.1100 1)" font-size="33.6" fill="#222">0</text>
<text transform="translate(1115.6 868.85) scale(1.1100 1)" font-size="33.6" fill="#222">0</text>
<text transform="translate(1135.15 868.85) scale(1.1100 1)" font-size="33.6" fill="#222">.</text>
<text transform="translate(1145.47 868.85) scale(1.1100 1)" font-size="33.6" fill="#222">2</text>
<text transform="translate(1115.6 779.8) scale(1.1100 1)" font-size="33.6" fill="#222">0</text>
<text transform="translate(1135.15 779.8) scale(1.1100 1)" font-size="33.6" fill="#222">.</text>
<text transform="translate(1145.47 779.8) scale(1.1100 1)" font-size="33.6" fill="#222">4</text>
<text transform="translate(1115.6 690.75) scale(1.1100 1)" font-size="33.6" fill="#222">0</text>
<text transform="translate(1135.15 690.75) scale(1.1100 1)" font-size="33.6" fill="#222">.</text>
<text transform="translate(1145.47 690.75) scale(1.1100 1)" font-size="33.6" fill="#222">6</text>
<text transform="translate(1115.6 601.7) scale(1.1100 1)" font-size="33.6" fill="#222">0</text>
<text transform="translate(1135.15 601.7) scale(1.1100 1)" font-size="33.6" fill="#222">.</text>
<text transform="translate(1145.47 601.7) scale(1.1100 1)" font-size="33.6" fill="#222">8</text>
<text transform="translate(1211.5 847.64) rotate(-90) scale(1.2934 1)" font-size="34" fill="#222">d<tspan font-style="italic">V</tspan>/d<tspan font-style="italic">I</tspan></text>
<text transform="translate(1211.5 732.85) rotate(-90) scale(1.0752 1)" font-size="34" fill="#222">(Ω)</text>
</g>
</svg>
</body></html>
